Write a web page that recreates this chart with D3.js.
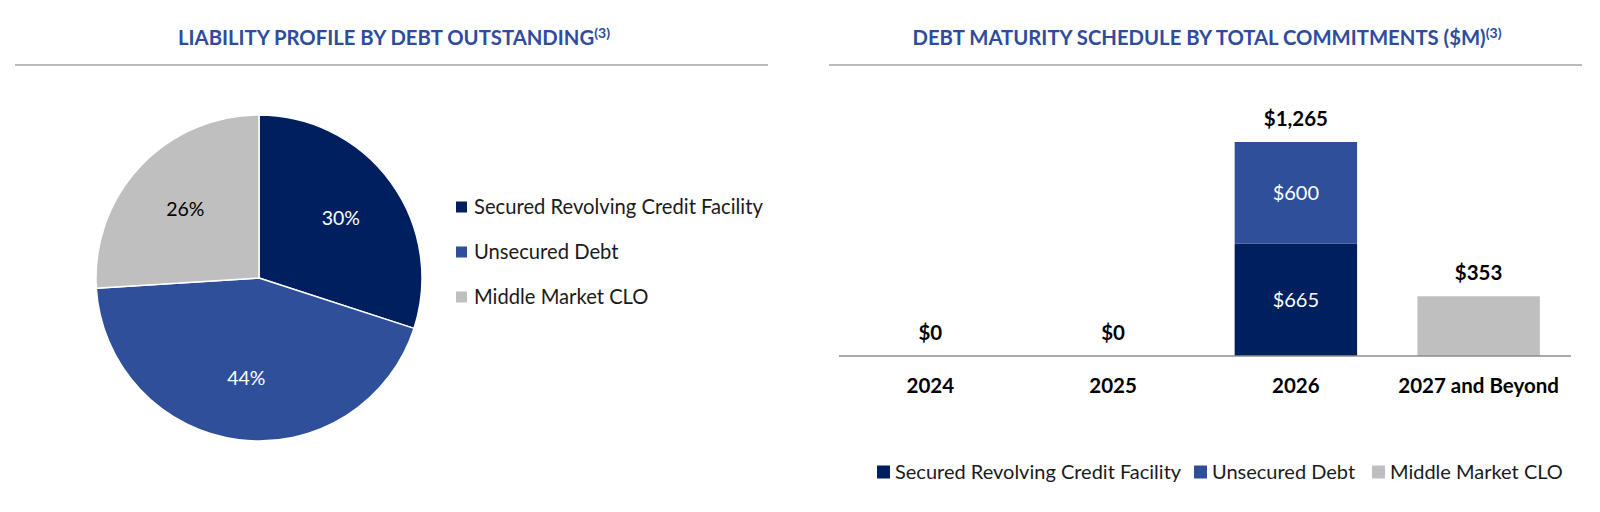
<!DOCTYPE html>
<html>
<head>
<meta charset="utf-8">
<script src="https://cdn.jsdelivr.net/npm/d3@7"></script>
<style>
  html, body { margin: 0; padding: 0; background: #fff; }
  svg { display: block; font-family: Lato, "Open Sans", sans-serif; }
</style>
</head>
<body>
<svg id="chart" width="1600" height="512"></svg>
<script>
// ---- Data ----
const seriesNames = ["Secured Revolving Credit Facility", "Unsecured Debt", "Middle Market CLO"];
const seriesColors = ["#001F5F", "#2F4F9B", "#BFBFBF"];
const pieShares = [30, 44, 26];               // % of debt outstanding
const pieLabelColors = ["#ffffff", "#ffffff", "#000000"];

const years = ["2024", "2025", "2026", "2027 and Beyond"];
const securedRevolving = [0, 0, 665, 0];
const unsecuredDebt   = [0, 0, 600, 0];
const middleMarketCLO = [0, 0, 0, 353];

const leftTitle = "LIABILITY PROFILE BY DEBT OUTSTANDING";
const rightTitle = "DEBT MATURITY SCHEDULE BY TOTAL COMMITMENTS ($M)";
const footnote = "(3)";

// ---- Setup ----
const svg = d3.select("#chart");
const titleColor = "#2E4C9E";
const fmt = d3.format(",");

function title(cx, text) {
  const t = svg.append("text")
    .attr("x", cx).attr("y", 45)
    .attr("text-anchor", "middle")
    .attr("fill", titleColor)
    .attr("font-weight", 700)
    .attr("font-size", 20.3);
  t.append("tspan").text(text);
  t.append("tspan").attr("font-size", 14).attr("dy", -7).text(footnote);
}
title(394, leftTitle);
title(1207, rightTitle);

svg.append("line").attr("x1", 15).attr("x2", 768).attr("y1", 65).attr("y2", 65)
  .attr("stroke", "#A6A6A6").attr("stroke-width", 1.5);
svg.append("line").attr("x1", 829).attr("x2", 1582).attr("y1", 65).attr("y2", 65)
  .attr("stroke", "#A6A6A6").attr("stroke-width", 1.5);

// ---- Pie ----
const pieData = seriesNames.map((n, i) => ({ name: n, value: pieShares[i], color: seriesColors[i], lc: pieLabelColors[i] }));
const R = 163;
const pieG = svg.append("g").attr("transform", "translate(259,278)");
const pie = d3.pie().sort(null).value(d => d.value);
const arc = d3.arc().innerRadius(0).outerRadius(R);
const labelArc = d3.arc().innerRadius(R * 0.62).outerRadius(R * 0.62);
const arcs = pie(pieData);
pieG.selectAll("path").data(arcs).join("path")
  .attr("d", arc).attr("fill", d => d.data.color)
  .attr("stroke", "#fff").attr("stroke-width", 1.5);
pieG.selectAll("text").data(arcs).join("text")
  .attr("transform", d => `translate(${labelArc.centroid(d)})`)
  .attr("text-anchor", "middle").attr("dy", "0.35em")
  .attr("font-size", 19.5).attr("fill", d => d.data.lc)
  .text(d => d.data.value + "%");

// Pie legend
const legY = d3.scalePoint().domain(seriesNames).range([207, 297]);
const pl = svg.append("g").selectAll("g").data(pieData).join("g")
  .attr("transform", d => `translate(456,${legY(d.name)})`);
pl.append("rect").attr("x", 0).attr("y", -5.5).attr("width", 11).attr("height", 11).attr("fill", d => d.color);
pl.append("text").attr("x", 18).attr("dy", "0.36em").attr("font-size", 20.2).attr("fill", "#1a1a1a").text(d => d.name);

// ---- Stacked bar chart ----
const barData = years.map((y, i) => ({ year: y, s0: securedRevolving[i], s1: unsecuredDebt[i], s2: middleMarketCLO[i] }));
const keys = ["s0", "s1", "s2"];
const x = d3.scaleBand().domain(years).range([839, 1570]).paddingInner(0.33).paddingOuter(0.165);
const totals = barData.map(d => d.s0 + d.s1 + d.s2);
const y = d3.scaleLinear().domain([0, d3.max(totals)]).range([356, 142]);
const stack = d3.stack().keys(keys)(barData);

const layers = svg.append("g").selectAll("g").data(stack).join("g")
  .attr("fill", (d, i) => seriesColors[i]);
layers.selectAll("rect").data(d => d.filter(s => s[1] - s[0] > 0)).join("rect")
  .attr("x", d => x(d.data.year))
  .attr("width", x.bandwidth())
  .attr("y", d => y(d[1]))
  .attr("height", d => y(d[0]) - y(d[1]));

// inner labels
stack.forEach((layer, i) => {
  svg.append("g").selectAll("text").data(layer.filter(s => s[1] - s[0] > 0 && seriesColors[i] !== "#BFBFBF")).join("text")
    .attr("x", d => x(d.data.year) + x.bandwidth() / 2)
    .attr("y", d => (y(d[0]) + y(d[1])) / 2)
    .attr("dy", "0.35em").attr("text-anchor", "middle")
    .attr("font-size", 20).attr("fill", "#ffffff")
    .text(d => "$" + fmt(d[1] - d[0]));
});

// total labels
svg.append("g").selectAll("text").data(barData).join("text")
  .attr("x", d => x(d.year) + x.bandwidth() / 2)
  .attr("y", (d, i) => y(totals[i]) - 23)
  .attr("dy", "0.35em").attr("text-anchor", "middle")
  .attr("font-size", 20.5).attr("font-weight", 700).attr("fill", "#000")
  .text((d, i) => "$" + fmt(totals[i]));

// x axis
const xAxis = d3.axisBottom(x).tickSize(0).tickPadding(22);
const ax = svg.append("g").attr("transform", "translate(0,356)").call(xAxis);
ax.select(".domain").attr("stroke", "#8C8C8C").attr("stroke-width", 1.5).attr("d", "M839,0H1571");
ax.selectAll("text").attr("font-size", 20.5).attr("font-weight", 700).attr("fill", "#000")
  .attr("font-family", "Lato, 'Open Sans', sans-serif");

// bottom legend
const legendItems = seriesNames.map((n, i) => ({ name: n, color: seriesColors[i] }));
const lx = [877, 1194, 1372];
const bl = svg.append("g").selectAll("g").data(legendItems).join("g")
  .attr("transform", (d, i) => `translate(${lx[i]},472)`);
bl.append("rect").attr("x", 0).attr("y", -6.5).attr("width", 13).attr("height", 13).attr("fill", d => d.color);
bl.append("text").attr("x", 18).attr("dy", "0.36em").attr("font-size", 20).attr("fill", "#1a1a1a").text(d => d.name);
</script>
</body>
</html>
